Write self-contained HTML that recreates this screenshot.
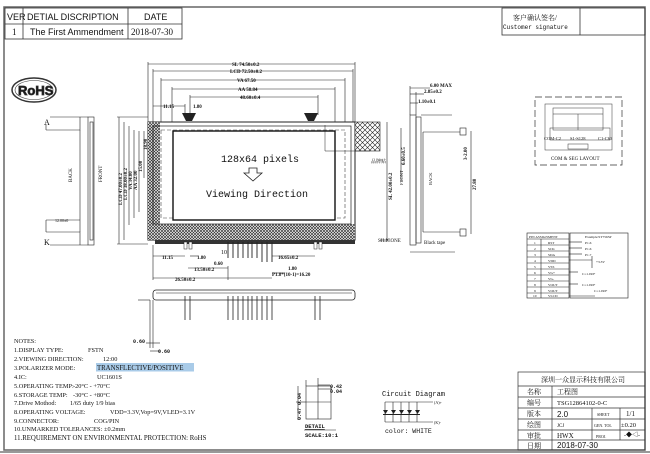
<!DOCTYPE html>
<html><head><meta charset="utf-8"><style>
html,body{margin:0;padding:0;background:#fff;}
svg{display:block;}
text{font-family:"Liberation Serif","Noto Serif CJK SC",serif;fill:#111;}
.s{font-family:"Liberation Sans","Noto Sans CJK SC",sans-serif;}
.m{font-family:"Liberation Mono",monospace;}
</style></head><body>
<svg width="650" height="454" viewBox="0 0 650 454" xmlns="http://www.w3.org/2000/svg">
<defs>
<pattern id="h" width="3" height="3" patternUnits="userSpaceOnUse"><rect width="3" height="3" fill="#fff"/><path d="M0 0L3 3M3 0L0 3" stroke="#333" stroke-width="0.7"/></pattern>
<pattern id="h2" width="5" height="5" patternUnits="userSpaceOnUse"><rect width="5" height="5" fill="#fff"/><path d="M0 0L5 5M5 0L0 5" stroke="#222" stroke-width="0.6"/></pattern>
</defs>
<rect width="650" height="454" fill="#fff"/>
<rect x="4" y="7" width="641" height="443" fill="none" stroke="#666" stroke-width="1.5"/>
<line x1="0" y1="452" x2="650" y2="452" stroke="#999" stroke-width="2"/>
<!-- header -->
<g fill="none" stroke="#333" stroke-width="0.8">
<rect x="5" y="8" width="177" height="31"/><line x1="5" y1="24" x2="182" y2="24"/>
<line x1="23" y1="8" x2="23" y2="39"/><line x1="128" y1="8" x2="128" y2="39"/>
<rect x="502" y="8" width="143" height="27"/><line x1="580" y1="8" x2="580" y2="35"/>
</g>
<text x="7" y="20" class="s" font-size="9">VER</text>
<text x="27" y="20" class="s" font-size="9">DETIAL DISCRIPTION</text>
<text x="144" y="20" class="s" font-size="9">DATE</text>
<text x="12" y="35" font-size="9">1</text>
<text x="30" y="35" class="s" font-size="9">The First Ammendment</text>
<text x="131" y="35" font-size="9">2018-07-30</text>
<text x="513" y="20" font-size="7">客户确认签名/</text>
<text x="503" y="29" class="m" font-size="6">Customer signature</text>
<!-- RoHS -->
<ellipse cx="34" cy="90" rx="22" ry="12" fill="none" stroke="#333" stroke-width="1.5"/>
<ellipse cx="34" cy="90" rx="19" ry="9.5" fill="none" stroke="#333" stroke-width="0.6"/>
<text x="18" y="95" class="s" font-size="13" font-weight="bold" fill="#fff" stroke="#333" stroke-width="0.8">RoHS</text>
<!-- top dims -->
<g stroke="#222" stroke-width="0.6" fill="none">
<line x1="148" y1="64" x2="355" y2="64"/><line x1="148" y1="62" x2="148" y2="122"/><line x1="355" y1="62" x2="355" y2="122"/>
<line x1="153" y1="71" x2="353" y2="71"/><line x1="153" y1="69" x2="153" y2="122"/><line x1="353" y1="69" x2="353" y2="122"/>
<line x1="161" y1="80" x2="345" y2="80"/><line x1="161" y1="78" x2="161" y2="125"/><line x1="345" y1="78" x2="345" y2="125"/>
<line x1="172" y1="89" x2="335" y2="89"/><line x1="172" y1="87" x2="172" y2="130"/><line x1="335" y1="87" x2="335" y2="130"/>
<line x1="190" y1="97" x2="318" y2="97"/><line x1="190" y1="95" x2="190" y2="115"/><line x1="318" y1="95" x2="318" y2="115"/>
<line x1="153" y1="106" x2="185" y2="106"/><line x1="185" y1="104" x2="185" y2="115"/>
</g>
<g class="m" font-size="5" font-weight="bold">
<text x="232" y="66">SL 74.50±0.2</text><text x="230" y="73">LCD 72.50±0.2</text>
<text x="237" y="82">VA 67.50</text><text x="238" y="91">AA 58.84</text><text x="240" y="99">48.60±0.4</text>
<text x="163" y="108">11.15</text><text x="193" y="108">1.80</text>
</g>
<path d="M182 113h14l-4 8h-6z M304 113h14l-4 8h-6z" fill="#222"/>
<!-- main LCD -->
<rect x="148" y="122" width="207" height="118" fill="#fff" stroke="#222" stroke-width="1"/>
<rect x="148" y="122" width="12" height="118" fill="url(#h)"/>
<rect x="148" y="224" width="207" height="16" fill="url(#h)"/>
<rect x="155" y="240" width="200" height="4" fill="#333"/>
<rect x="153" y="126" width="198" height="98" fill="none" stroke="#222" stroke-width="0.7"/>
<rect x="161" y="130" width="184" height="88" fill="none" stroke="#444" stroke-width="0.6" stroke-dasharray="4 2"/>
<rect x="173" y="131" width="162" height="89" fill="#fff" stroke="#111" stroke-width="1.4"/>
<rect x="355" y="122" width="25" height="29" fill="url(#h2)" stroke="#222" stroke-width="0.6"/>
<polyline points="325,125 325,151 370,151" fill="none" stroke="#222" stroke-width="0.5"/>
<text x="371" y="163" font-size="5">品牌贴</text>
<text x="221" y="162" class="m" font-size="10">128x64 pixels</text>
<path d="M249 168h8v5h5l-9 8-9-8h5z" fill="#fff" stroke="#222" stroke-width="0.8"/>
<text x="206" y="197" class="m" font-size="10">Viewing Direction</text>
<!-- left dims -->
<g stroke="#222" stroke-width="0.6" fill="none">
<line x1="119" y1="117" x2="119" y2="244"/><line x1="117" y1="117" x2="148" y2="117"/><line x1="117" y1="244" x2="148" y2="244"/>
<line x1="124" y1="122" x2="124" y2="240"/><line x1="129" y1="126" x2="129" y2="225"/>
<line x1="134" y1="130" x2="134" y2="218"/><line x1="139" y1="131" x2="139" y2="212"/>
<line x1="144" y1="131" x2="144" y2="178"/>
<line x1="387" y1="122" x2="387" y2="240"/><line x1="380" y1="240" x2="390" y2="240"/>
</g>
<g class="m" font-size="5" font-weight="bold">
<text transform="translate(122,205) rotate(-90)">LCD 47.00±0.2</text>
<text transform="translate(127,200) rotate(-90)">LCD 38.60±0.2</text>
<text transform="translate(132,190) rotate(-90)">VA 34.00</text>
<text transform="translate(137,190) rotate(-90)">AA 32.00</text>
<text transform="translate(142,172) rotate(-90)">15.00</text>
<text transform="translate(147,150) rotate(-90)">18.90</text>
<text transform="translate(392,200) rotate(-90)">SL 42.00±0.2</text>
</g>
<!-- left side view -->
<g stroke="#222" stroke-width="0.6" fill="none">
<rect x="88" y="117" width="6" height="128"/><rect x="90" y="122" width="3" height="118"/>
<polyline points="50,117 88,117"/><polyline points="46,130 80,130 80,117"/><line x1="46" y1="130" x2="46" y2="124"/>
<polyline points="50,245 88,245"/><polyline points="46,232 80,232 80,245"/><line x1="46" y1="232" x2="46" y2="220"/>
<line x1="46" y1="220" x2="80" y2="220"/>
<line x1="80" y1="130" x2="80" y2="232"/>
</g>
<text x="44" y="125" font-size="8">A</text><text x="44" y="245" font-size="8">K</text>
<text x="72" y="182" font-size="5" transform="rotate(-90 72 182)">BACK</text>
<text x="102" y="182" font-size="5" transform="rotate(-90 102 182)">FRONT</text>
<text x="55" y="222" font-size="4">12.00±0</text>
<!-- pins & bottom dims -->
<g fill="#fff" stroke="#222" stroke-width="0.5">
<rect x="184" y="242" width="3" height="7"/><rect x="189" y="242" width="3" height="7"/>
<rect x="314" y="242" width="3" height="7"/><rect x="319" y="242" width="3" height="7"/>
</g>
<g stroke="#222" stroke-width="0.9">
<line x1="228" y1="242" x2="228" y2="258"/><line x1="233" y1="242" x2="233" y2="258"/><line x1="238" y1="242" x2="238" y2="258"/><line x1="243" y1="242" x2="243" y2="258"/><line x1="248" y1="242" x2="248" y2="258"/><line x1="252" y1="242" x2="252" y2="258"/><line x1="257" y1="242" x2="257" y2="258"/><line x1="262" y1="242" x2="262" y2="262"/><line x1="267" y1="242" x2="267" y2="262"/><line x1="272" y1="242" x2="272" y2="262"/>
</g>
<g stroke="#222" stroke-width="0.6" fill="none">
<line x1="153" y1="245" x2="153" y2="280"/><line x1="153" y1="256" x2="185" y2="256"/><line x1="190" y1="256" x2="198" y2="256"/>
<line x1="228" y1="266" x2="228" y2="280"/><line x1="188" y1="268" x2="228" y2="268"/><line x1="153" y1="278" x2="272" y2="278"/>
<line x1="272" y1="256" x2="315" y2="256"/><line x1="272" y1="273" x2="285" y2="273"/>
</g>
<g class="m" font-size="5" font-weight="bold">
<text x="162" y="259">11.15</text><text x="197" y="259">1.80</text><text x="214" y="265">0.60</text>
<text x="194" y="271">13.50±0.2</text><text x="175" y="281">26.50±0.2</text>
<text x="278" y="259">16.65±0.2</text><text x="272" y="276">P1.8*(10-1)=16.20</text>
<text x="288" y="270">1.80</text>
</g>
<text x="221" y="254" font-size="6">10</text>
<!-- bottom side view -->
<rect x="153" y="290" width="202" height="10" rx="3" fill="#fff" stroke="#222" stroke-width="0.8"/>
<line x1="156" y1="293" x2="352" y2="293" stroke="#222" stroke-width="0.5"/>
<g stroke="#222" stroke-width="0.8">
<line x1="185" y1="296" x2="185" y2="320"/><line x1="190" y1="296" x2="190" y2="320"/>
<line x1="315" y1="296" x2="315" y2="320"/><line x1="320" y1="296" x2="320" y2="320"/>
<line x1="228" y1="296" x2="228" y2="320"/><line x1="233" y1="296" x2="233" y2="320"/><line x1="238" y1="296" x2="238" y2="320"/><line x1="243" y1="296" x2="243" y2="320"/><line x1="248" y1="296" x2="248" y2="320"/><line x1="252" y1="296" x2="252" y2="320"/><line x1="257" y1="296" x2="257" y2="320"/><line x1="262" y1="296" x2="262" y2="320"/><line x1="267" y1="296" x2="267" y2="320"/><line x1="272" y1="296" x2="272" y2="320"/>
</g>
<g stroke="#222" stroke-width="0.6" fill="none">
<line x1="150" y1="300" x2="150" y2="348"/><line x1="153" y1="300" x2="153" y2="348"/>
<line x1="138" y1="300" x2="150" y2="300"/><line x1="146" y1="343" x2="160" y2="343"/><line x1="150" y1="351" x2="160" y2="351"/>
</g>
<text x="133" y="343" class="m" font-size="5" font-weight="bold">0.60</text>
<text x="158" y="353" class="m" font-size="5" font-weight="bold">0.60</text>
<!-- right side view -->
<g stroke="#222" stroke-width="0.6" fill="none">
<rect x="410" y="115" width="6" height="130"/><rect x="416" y="117" width="5" height="126"/>
<line x1="421" y1="115" x2="452" y2="115"/><line x1="423" y1="132" x2="460" y2="132"/>
<line x1="423" y1="232" x2="460" y2="232"/><line x1="423" y1="132" x2="423" y2="232"/>
<rect x="460" y="128" width="6" height="7"/><rect x="460" y="229" width="6" height="7"/>
<line x1="471" y1="131" x2="471" y2="234"/>
<line x1="410" y1="88" x2="430" y2="88"/><line x1="410" y1="94" x2="424" y2="94"/><line x1="410" y1="103" x2="418" y2="103"/>
<line x1="410" y1="86" x2="410" y2="115"/><line x1="416" y1="92" x2="416" y2="115"/>
<line x1="410" y1="252" x2="455" y2="252"/><line x1="401" y1="128" x2="401" y2="180"/>
</g>
<g class="m" font-size="5" font-weight="bold">
<text x="430" y="87">6.00 MAX</text><text x="424" y="93">2.85±0.2</text><text x="418" y="103">1.10±0.1</text>
<text transform="translate(405,165) rotate(-90)">6.60±0.5</text>
<text transform="translate(467,160) rotate(-90)">3-2.00</text>
<text transform="translate(476,190) rotate(-90)">27.80</text>
</g>
<text x="403" y="185" font-size="4.5" transform="rotate(-90 403 185)">FRONT</text>
<text x="432" y="185" font-size="4.5" transform="rotate(-90 432 185)">BACK</text>
<text x="378" y="242" font-size="5">SILICONE</text><text x="424" y="244" font-size="5">Black tape</text>
<!-- COM SEG layout -->
<rect x="535" y="97" width="87" height="68" fill="none" stroke="#333" stroke-width="0.7" stroke-dasharray="7 3"/>
<g stroke="#333" stroke-width="0.5" fill="none">
<rect x="545" y="104" width="67" height="46"/><rect x="553" y="108" width="50" height="22"/>
<line x1="553" y1="114" x2="603" y2="114"/><line x1="578" y1="114" x2="578" y2="130"/>
<rect x="550" y="128" width="60" height="12"/><rect x="568" y="144" width="20" height="5"/>
</g>
<text x="544" y="140" font-size="4.5">COM-C2</text><text x="570" y="140" font-size="4.5">S1-S128</text><text x="598" y="140" font-size="4.5">C1-C63</text>
<text x="551" y="160" font-size="5">COM &amp; SEG LAYOUT</text>
<!-- pin table -->
<g stroke="#222" stroke-width="0.6" fill="none">
<rect x="527" y="233" width="42" height="65"/><rect x="570" y="233" width="58" height="65"/>
<line x1="541" y1="239" x2="541" y2="298"/>
<line x1="527" y1="239" x2="569" y2="239"/><line x1="527" y1="245" x2="569" y2="245"/><line x1="527" y1="251" x2="569" y2="251"/><line x1="527" y1="257" x2="569" y2="257"/><line x1="527" y1="263" x2="569" y2="263"/><line x1="527" y1="269" x2="569" y2="269"/><line x1="527" y1="275" x2="569" y2="275"/><line x1="527" y1="281" x2="569" y2="281"/><line x1="527" y1="287" x2="569" y2="287"/><line x1="527" y1="293" x2="569" y2="293"/>
<line x1="569" y1="242" x2="582" y2="242"/><line x1="569" y1="248" x2="582" y2="248"/><line x1="569" y1="254" x2="582" y2="254"/>
<line x1="569" y1="260" x2="592" y2="260"/><line x1="592" y1="256" x2="592" y2="268"/>
<line x1="569" y1="272" x2="578" y2="272"/><line x1="569" y1="284" x2="578" y2="284"/><line x1="569" y1="296" x2="595" y2="296"/>
</g>
<g font-size="3.5"><text x="529" y="238">PIN ASSIGNMENT</text><text x="585" y="238">Example:ST7565P</text>
<text x="534" y="244">1</text><text x="548" y="244">RST</text><text x="534" y="250">2</text><text x="548" y="250">SCK</text><text x="534" y="256">3</text><text x="548" y="256">SDA</text><text x="534" y="262">4</text><text x="548" y="262">VDD</text><text x="534" y="268">5</text><text x="548" y="268">VSS</text><text x="534" y="274">6</text><text x="548" y="274">VG+</text><text x="534" y="280">7</text><text x="548" y="280">VG-</text><text x="534" y="286">8</text><text x="548" y="286">VOUT</text><text x="534" y="292">9</text><text x="548" y="292">VOUT</text><text x="533" y="297">10</text><text x="548" y="297">VLCD</text>
<text x="585" y="244">P1.6</text><text x="585" y="250">P1.6</text><text x="585" y="256">P1.7</text><text x="596" y="263">+3.3V</text><text x="582" y="275">C=1.0UF</text><text x="582" y="286">C=1.0UF</text><text x="594" y="292">C=1.0UF</text></g>
<!-- notes -->
<rect x="96" y="363" width="98" height="8.5" fill="#a9cbe8"/>
<g font-size="6.3">
<text x="14" y="343">NOTES:</text>
<text x="14" y="352">1.DISPLAY TYPE:</text><text x="88" y="352">FSTN</text>
<text x="14" y="361">2.VIEWING DIRECTION:</text><text x="103" y="361">12:00</text>
<text x="14" y="370">3.POLARIZER MODE:</text><text x="97" y="370" fill="#1a3e6e" font-size="6.8">TRANSFLECTIVE/POSITIVE</text>
<text x="14" y="379">4.IC:</text><text x="97" y="379">UC1601S</text>
<text x="14" y="388">5.OPERATING TEMP:</text><text x="73" y="388">-20°C - +70°C</text>
<text x="14" y="397">6.STORAGE TEMP:</text><text x="73" y="397">-30°C - +80°C</text>
<text x="14" y="405">7.Drive Mothod:</text><text x="70" y="405">1/65 duty  1/9 bias</text>
<text x="14" y="414">8.OPERATING VOLTAGE:</text><text x="110" y="414">VDD=3.3V,Vop=9V,VLED=3.1V</text>
<text x="14" y="423">9.CONNECTOR:</text><text x="94" y="423">COG/PIN</text>
<text x="14" y="431">10.UNMARKED TOLERANCES:</text><text x="104" y="431">±0.2mm</text>
<text x="14" y="440" font-size="6.8">11.REQUIREMENT ON ENVIRONMENTAL PROTECTION: RoHS</text>
</g>
<!-- detail -->
<g stroke="#222" stroke-width="0.6" fill="none">
<rect x="306" y="386" width="25" height="33"/><line x1="318" y1="386" x2="318" y2="419"/><line x1="306" y1="402" x2="331" y2="402"/>
<line x1="298" y1="386" x2="298" y2="420"/><line x1="296" y1="402" x2="306" y2="402"/>
<line x1="306" y1="380" x2="306" y2="386"/><line x1="318" y1="378" x2="318" y2="386"/>
<line x1="318" y1="389" x2="332" y2="389"/><line x1="318" y1="385" x2="330" y2="385"/>
</g>
<text x="330" y="388" class="m" font-size="5" font-weight="bold">0.42</text><text x="330" y="393" class="m" font-size="5" font-weight="bold">0.04</text>
<text x="301" y="420" class="m" font-size="5" font-weight="bold" transform="rotate(-90 301 420)">0.47 0.04</text>
<text x="305" y="428" class="m" font-size="5.5" font-weight="bold" text-decoration="underline">DETAIL</text>
<text x="305" y="437" class="m" font-size="5.5" font-weight="bold">SCALE:10:1</text>
<line x1="304" y1="430" x2="336" y2="430" stroke="#222" stroke-width="0.6"/>
<!-- circuit -->
<text x="382" y="396" class="m" font-size="7">Circuit Diagram</text>
<g stroke="#222" stroke-width="0.6" fill="none">
<line x1="385" y1="402" x2="433" y2="402"/><line x1="385" y1="422" x2="433" y2="422"/>
<line x1="385" y1="402" x2="385" y2="422"/><line x1="393" y1="402" x2="393" y2="422"/><line x1="401" y1="402" x2="401" y2="422"/><line x1="409" y1="402" x2="409" y2="422"/><line x1="417" y1="402" x2="417" y2="422"/>
</g>
<g fill="#222"><path d="M383 410h5l-2.5 4z M391 410h5l-2.5 4z M399 410h5l-2.5 4z M407 410h5l-2.5 4z M415 410h5l-2.5 4z"/><rect x="383" y="414" width="37" height="1"/></g>
<text x="434" y="404" font-size="4">(A)+</text><text x="434" y="424" font-size="4">(K)-</text>
<text x="385" y="433" class="m" font-size="6.5">color: WHITE</text>
<!-- title block -->
<g stroke="#333" stroke-width="0.7" fill="none">
<rect x="518" y="372" width="127" height="78"/>
<line x1="518" y1="386" x2="645" y2="386"/><line x1="518" y1="397" x2="645" y2="397"/><line x1="518" y1="408" x2="645" y2="408"/><line x1="518" y1="419" x2="645" y2="419"/><line x1="518" y1="430" x2="645" y2="430"/><line x1="518" y1="440" x2="645" y2="440"/>
<line x1="552" y1="386" x2="552" y2="450"/><line x1="592" y1="408" x2="592" y2="440"/><line x1="620" y1="408" x2="620" y2="440"/>
</g>
<g font-size="7">
<text x="541" y="382">深圳一众显示科技有限公司</text>
<text x="527" y="394">名称</text><text x="557" y="394">工程图</text>
<text x="527" y="405">编号</text><text x="557" y="405" font-size="6.5">TSG12864102-0-C</text>
<text x="527" y="416">版本</text><text x="557" y="417" class="s" font-size="8">2.0</text><text x="597" y="416" font-size="4">SHEET</text><text x="626" y="416">1/1</text>
<text x="527" y="427">绘图</text><text x="557" y="427" font-size="5">JCJ</text><text x="594" y="427" font-size="4">GEN. TOL</text><text x="621" y="427" font-size="6.5">±0.20</text>
<text x="527" y="438">审批</text><text x="557" y="438">HWX</text><text x="596" y="438" font-size="4">PROJ.</text><text x="624" y="437" font-size="6">-◆◁-</text>
<text x="527" y="448">日期</text><text x="557" y="448" class="s" font-size="8">2018-07-30</text>
</g>
</svg>
</body></html>
